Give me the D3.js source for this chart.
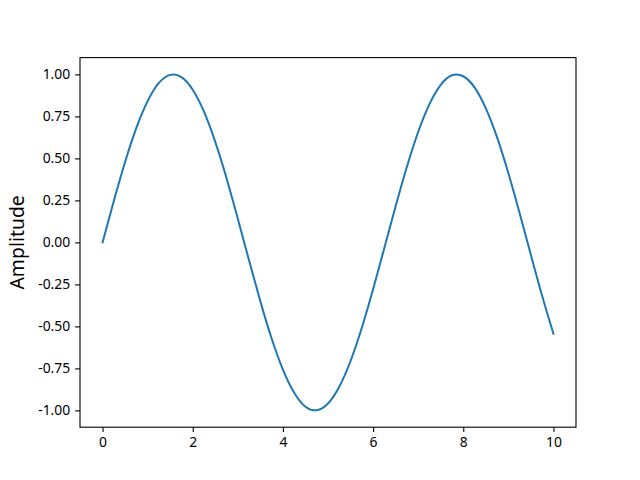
<!DOCTYPE html>
<html><head><meta charset="utf-8">
<script src="https://cdn.jsdelivr.net/npm/d3@7"></script>
<style>body{margin:0;background:#fff}</style>
</head><body>
<svg id="c" width="640" height="480"></svg>
<script>
const xValues = [0,0.25,0.5,0.75,1,1.25,1.5,1.75,2,2.25,2.5,2.75,3,3.25,3.5,3.75,4,4.25,4.5,4.75,5,5.25,5.5,5.75,6,6.25,6.5,6.75,7,7.25,7.5,7.75,8,8.25,8.5,8.75,9,9.25,9.5,9.75,10];
const amplitude = [0,0.247,0.479,0.682,0.841,0.949,0.997,0.984,0.909,0.778,0.598,0.382,0.141,-0.108,-0.351,-0.572,-0.757,-0.895,-0.978,-0.999,-0.959,-0.859,-0.706,-0.508,-0.279,-0.033,0.215,0.450,0.657,0.823,0.938,0.995,0.989,0.923,0.798,0.625,0.412,0.174,-0.075,-0.319,-0.544];
const xTicks = [0,2,4,6,8,10];
const yTicks = [-1,-0.75,-0.5,-0.25,0,0.25,0.5,0.75,1];
const yLabel = "Amplitude";

const L=80,R=576,T=57.6,B=427.2;
const font = "'Noto Sans', 'Open Sans', sans-serif";
const svg = d3.select("#c");
const x = d3.scaleLinear().domain([-0.5,10.5]).range([L,R]);
const y = d3.scaleLinear().domain([-1.1,1.1]).range([B,T]);
const data = xValues.map((v,i)=>[v,amplitude[i]]);

svg.append("path").datum(data)
  .attr("fill","none").attr("stroke","#1f77b4").attr("stroke-width",2)
  .attr("stroke-linecap","square")
  .attr("d", d3.line().x(d=>x(d[0])).y(d=>y(d[1])).curve(d3.curveNatural));

const xa = svg.append("g").attr("transform",`translate(0,${B})`)
  .call(d3.axisBottom(x).tickValues(xTicks).tickFormat(d3.format("d")).tickSize(4.9).tickPadding(4.9));
const ya = svg.append("g").attr("transform",`translate(${L},0)`)
  .call(d3.axisLeft(y).tickValues(yTicks).tickFormat(d3.format(".2f")).tickSize(4.9).tickPadding(4.9));
[xa,ya].forEach(a=>{
  a.select(".domain").remove();
  a.selectAll("line").attr("stroke","#000").attr("stroke-width",1.1);
  a.selectAll("text").attr("font-family",font).attr("font-size",13.9).attr("fill","#000");
});
ya.selectAll("text").text(d=>d3.format(".2f")(d).replace("−","-"));

svg.append("rect").attr("x",L).attr("y",T).attr("width",R-L).attr("height",B-T)
  .attr("fill","none").attr("stroke","#000").attr("stroke-width",1.1);

svg.append("text").attr("transform",`translate(24,${(T+B)/2}) rotate(-90)`)
  .attr("text-anchor","middle").attr("font-family",font).attr("font-size",19.4)
  .attr("fill","#000").text(yLabel);
</script>
</body></html>
